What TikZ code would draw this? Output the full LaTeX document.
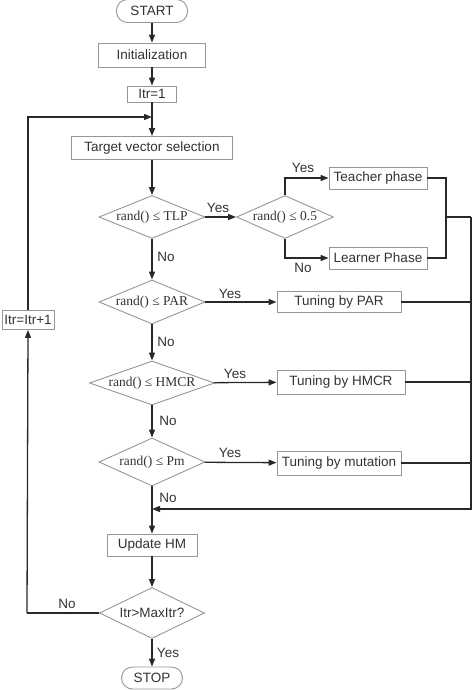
\documentclass[tikz,border=0pt]{standalone}
\usepackage{fontspec}
\setmainfont{Liberation Sans}
\newfontfamily\serifx{Liberation Serif}
\usetikzlibrary{shapes.geometric,arrows.meta}
\definecolor{boxgray}{RGB}{150,150,150}
\definecolor{linec}{RGB}{40,40,40}
\definecolor{txt}{RGB}{50,50,50}
\begin{document}
\begin{tikzpicture}[x=1pt,y=-1pt,
 box/.style={draw=boxgray, line width=0.9pt, inner sep=0pt, font=\fontsize{13.5}{16}\selectfont, text=txt},
 term/.style={box, rounded corners=11pt},
 dia/.style={draw=boxgray, line width=0.9pt, shape=diamond, inner sep=0pt, text=txt, font=\serifx\fontsize{13.5}{16}\selectfont},
 line/.style={draw=linec, line width=1.3pt},
 arr/.style={line, -{Triangle[length=8pt,width=6pt]}},
 lab/.style={font=\fontsize{13.5}{16}\selectfont, text=txt, inner sep=0pt}]
\useasboundingbox (0,0) rectangle (474,690);
% nodes
\node[term, minimum width=71pt, minimum height=23pt] (start) at (152,11) {START};
\node[box, minimum width=107pt, minimum height=24pt] (init) at (152,55) {Initialization};
\node[box, minimum width=49pt, minimum height=16pt] (itr1) at (152,94) {Itr=1};
\node[box, minimum width=161pt, minimum height=23pt] (tvs) at (152,148) {Target vector selection};
\node[dia, minimum width=106pt, minimum height=43pt] (d1) at (152,217) {\makebox[0pt]{rand() ≤ TLP}};
\node[dia, minimum width=97pt, minimum height=43pt] (d2) at (285,217) {\makebox[0pt]{rand() ≤ 0.5}};
\node[box, minimum width=98pt, minimum height=22pt] (teach) at (378,178) {Teacher phase};
\node[box, minimum width=98pt, minimum height=22pt] (learn) at (378,258) {Learner Phase};
\node[dia, minimum width=106pt, minimum height=44pt] (d3) at (152,302) {\makebox[0pt]{rand() ≤ PAR}};
\node[box, minimum width=124pt, minimum height=21pt] (par) at (339,302) {Tuning by PAR};
\node[dia, minimum width=125pt, minimum height=44pt] (d4) at (152,383) {\makebox[0pt]{rand() ≤ HMCR}};
\node[box, minimum width=128pt, minimum height=24pt] (hmcr) at (341,382) {Tuning by HMCR};
\node[dia, minimum width=106pt, minimum height=48pt] (d5) at (152,462) {\makebox[0pt]{rand() ≤ Pm}};
\node[box, minimum width=124pt, minimum height=24pt] (mut) at (339,463) {Tuning by mutation};
\node[box, minimum width=90pt, minimum height=22pt] (upd) at (152,545) {Update HM};
\node[dia, font=\fontsize{13.5}{16}\selectfont, minimum width=105pt, minimum height=51pt] (d6) at (152,613) {\makebox[0pt]{Itr>MaxItr?}};
\node[term, minimum width=61pt, minimum height=22pt] (stop) at (152,678) {STOP};
\node[box, minimum width=52pt, minimum height=19pt] (inc) at (28,320) {Itr=Itr+1};
% junction coordinates
\coordinate (j1) at (152,117);
\coordinate (j2) at (152,509);
\coordinate (rj) at (446,217);
\coordinate (rr) at (471,217);
\coordinate (lc) at (27,613);
% connectors
\draw[arr] (start) -- (init);
\draw[arr] (init) -- (itr1);
\draw[arr] (itr1) -- (tvs);
\draw[arr] (inc.north) |- (j1);
\draw[arr] (tvs) -- (d1);
\draw[arr] (d1) -- (d2);
\draw[arr] (d2.north) |- (teach.west);
\draw[arr] (d2.south) |- (learn.west);
\draw[line] (teach.east) -| (rj) |- (learn.east);
\draw[line] (rj) -- (rr);
\draw[arr] (rr) |- (j2);
\draw[arr] (d1) -- (d3);
\draw[arr] (d3) -- (par);
\draw[line] (par.east) -- (par.east -| rr);
\draw[arr] (d3) -- (d4);
\draw[arr] (d4) -- (hmcr);
\draw[line] (hmcr.east) -- (hmcr.east -| rr);
\draw[arr] (d4) -- (d5);
\draw[arr] (d5) -- (mut);
\draw[line] (mut.east) -- (mut.east -| rr);
\draw[line] (d5.south) -- (j2);
\draw[arr] (j2) -- (upd);
\draw[arr] (upd) -- (d6);
\draw[line] (d6.west) -- (lc);
\draw[arr] (lc) -- (inc.south);
\draw[arr] (d6) -- (stop);
% labels
\node[lab] (l1) at (218,208) {Yes};
\node[lab] (l2) at (303,168) {Yes};
\node[lab] (l3) at (303,268) {No};
\node[lab] (l4) at (166,257) {No};
\node[lab] (l5) at (230,294) {Yes};
\node[lab] (l6) at (166,342) {No};
\node[lab] (l7) at (235,374) {Yes};
\node[lab] (l8) at (168,421) {No};
\node[lab] (l9) at (230,453) {Yes};
\node[lab] (l10) at (168,498) {No};
\node[lab] (l11) at (67,604) {No};
\node[lab] (l12) at (168,653) {Yes};
\end{tikzpicture}
\end{document}
